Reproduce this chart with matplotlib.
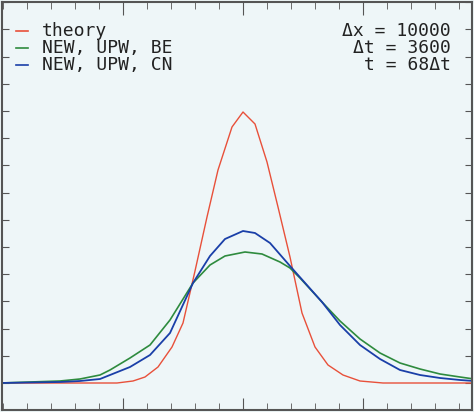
import matplotlib.pyplot as plt
import numpy as np
from matplotlib.ticker import MultipleLocator, FixedLocator

# values (x in grid units, y relative to baseline)
theory_x = [0, 100, 117, 133, 145, 158, 172, 183, 195, 207, 218, 232, 243, 255, 267, 278, 290, 302, 315, 328, 343, 360, 383, 474]
theory_y = [0, 0, 0, 2, 6, 16, 36, 60, 112, 166, 213, 256, 271, 259, 221, 176, 126, 70, 36, 18, 8, 2, 0, 0]

be_x = [0, 60, 80, 100, 110, 130, 150, 170, 193, 210, 225, 245, 262, 280, 290, 300, 322, 340, 360, 380, 400, 420, 440, 460, 474]
be_y = [0, 2, 4, 8, 13, 25, 38, 63, 100, 118, 127, 131, 129, 121, 115, 105, 81, 62, 44, 30, 20, 14, 9, 6, 4]

cn_x = [0, 60, 80, 100, 110, 130, 150, 170, 193, 210, 225, 243, 255, 270, 290, 322, 340, 360, 380, 400, 420, 440, 460, 474]
cn_y = [0, 1, 2, 4, 8, 16, 28, 50, 100, 127, 144, 152, 150, 140, 117, 81, 58, 38, 24, 13, 8, 5, 3, 2]

labels = ['theory', 'NEW, UPW, BE', 'NEW, UPW, CN']
colors = ['#e8503a', '#2e8b3e', '#1a3fa8']
info = ['\u0394x = 10000', '\u0394t = 3600', 't = 68\u0394t']

fig = plt.figure(figsize=(4.74, 4.12), dpi=100)
fig.patch.set_facecolor('#eef6f8')
ax = fig.add_axes([2/474, 2/412, 470/474, 408/412])
ax.set_facecolor('#eef6f8')

ax.plot(theory_x, theory_y, color=colors[0], lw=1.0)
ax.plot(be_x, be_y, color=colors[1], lw=1.2)
ax.plot(cn_x, cn_y, color=colors[2], lw=1.3)

ax.set_xlim(2, 472)
ax.set_ylim(383 - 410, 383 - 2)

ax.xaxis.set_major_locator(FixedLocator([123, 243, 363]))
ax.xaxis.set_minor_locator(FixedLocator(np.arange(3, 472, 24)))
ax.yaxis.set_major_locator(MultipleLocator(27.2))
ax.tick_params(which='both', direction='in', top=True, right=True,
               labelbottom=False, labelleft=False, color='#555555')
ax.tick_params(which='major', axis='x', length=9)
ax.tick_params(which='minor', axis='x', length=5)
ax.tick_params(which='major', axis='y', length=5)
for s in ax.spines.values():
    s.set_color('#555555')
    s.set_linewidth(1.5)

fs = 13
for i, (lab, c) in enumerate(zip(labels, colors)):
    ypix = 31 + 17 * i
    yv = 383 - ypix
    ax.plot([16, 28], [yv, yv], color=c, lw=1.2)
    ax.text(42, yv, lab, fontsize=fs, family='DejaVu Sans Mono', color='#222222', va='center')
    ax.text(451, yv, info[i], fontsize=fs, family='DejaVu Sans Mono', color='#222222', va='center', ha='right')

fig.savefig('out.png', dpi=100, facecolor=fig.get_facecolor())
